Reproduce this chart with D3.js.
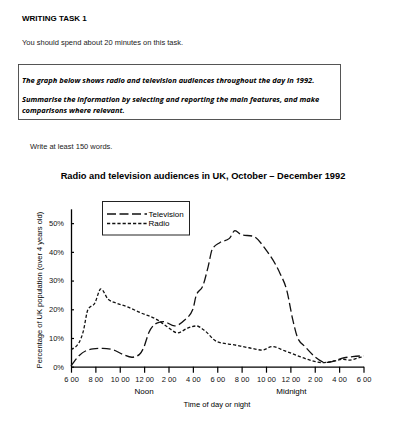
<!DOCTYPE html>
<html>
<head>
<meta charset="utf-8">
<script src="https://cdn.jsdelivr.net/npm/d3@7"></script>
<style>
  body { margin: 0; background: #fff; }
  svg { display: block; }
</style>
</head>
<body>
<div id="chart"></div>
<script>
// hours run 6 (6am) to 30 (6am next day)
var tvHours   = [6.0, 6.7, 7.8, 8.6, 9.5, 10.3, 11.0, 11.6, 11.95, 12.4, 13.1, 13.6, 14.5, 15.3, 16.0, 16.25, 16.85, 17.25, 17.6, 18.2, 19.0, 19.45, 20.0, 20.9, 22.0, 23.15, 23.7, 24.2, 24.6, 25.2, 26.0, 26.6, 27.0, 27.5, 28.2, 29.1, 30.0];
var tvValues  = [0.3, 4.0, 6.2, 6.4, 5.8, 4.2, 3.3, 4.2, 6.5, 12.0, 15.3, 15.7, 14.2, 16.2, 20.0, 24.5, 28.5, 34.8, 41.0, 43.2, 44.7, 47.4, 45.9, 45.5, 40.7, 32.5, 26.7, 16.3, 10.0, 7.0, 3.5, 1.8, 1.5, 1.9, 2.9, 3.5, 3.8];

var radioHours  = [6.0, 6.7, 7.0, 7.4, 7.95, 8.45, 9.05, 9.75, 10.6, 11.7, 13.1, 13.9, 14.75, 15.55, 16.3, 16.9, 18.0, 19.4, 20.6, 21.7, 22.5, 23.5, 24.6, 25.6, 26.6, 27.6, 28.3, 28.8, 29.8, 30.0];
var radioValues = [6.0, 8.7, 12.2, 20.0, 22.1, 27.1, 23.5, 22.1, 20.9, 18.8, 16.3, 13.9, 11.8, 13.4, 14.2, 12.8, 8.7, 7.6, 6.6, 5.8, 7.0, 5.6, 3.8, 2.3, 1.4, 2.0, 2.6, 2.3, 3.3, 3.4];

var tickHours  = [6, 8, 10, 12, 14, 16, 18, 20, 22, 24, 26, 28, 30];
var tickLabels = ["6 00", "8 00", "10 00", "12 00", "2 00", "4 00", "6 00", "8 00", "10 00", "12 00", "2 00", "4 00", "6 00"];
var yTicks = [0, 10, 20, 30, 40, 50];

var seriesNames = ["Television", "Radio"];

var svg = d3.select('#chart').append('svg')
    .attr('width', 400)
    .attr('height', 428);

// exam header
var sans = "'Liberation Sans', Arial, sans-serif";
svg.append('text').attr('x', 22).attr('y', 20.5)
    .style('font-family', sans).style('font-size', '8px').style('font-weight', 'bold')
    .text('WRITING TASK 1');
svg.append('text').attr('x', 22).attr('y', 44.5)
    .style('font-family', sans).style('font-size', '7.5px').attr('fill', '#222')
    .text('You should spend about 20 minutes on this task.');

svg.append('rect').attr('x', 18.5).attr('y', 64.5).attr('width', 322).attr('height', 55)
    .attr('fill', 'none').attr('stroke', '#444').attr('stroke-width', 0.9);

var boxLines = [
    {y: 82.5, t: 'The graph below shows radio and television audiences throughout the day in 1992.'},
    {y: 101.5, t: 'Summarise the information by selecting and reporting the main features, and make'},
    {y: 112.5, t: 'comparisons where relevant.'}
];
svg.selectAll('text.task').data(boxLines).enter().append('text')
    .attr('class', 'task')
    .attr('x', 22).attr('y', function(d) { return d.y; })
    .style('font-family', "'Open Sans', sans-serif").style('font-size', '7.5px')
    .style('font-weight', 'bold').style('font-style', 'italic')
    .text(function(d) { return d.t; });

svg.append('text').attr('x', 30).attr('y', 148.5)
    .style('font-family', sans).style('font-size', '7.5px').attr('fill', '#222')
    .text('Write at least 150 words.');

// chart title
svg.append('text').attr('x', 203).attr('y', 178.5).attr('text-anchor', 'middle')
    .style('font-family', sans).style('font-size', '9.3px').style('font-weight', 'bold')
    .text('Radio and television audiences in UK, October \u2013 December 1992');

var x = d3.scaleLinear().domain([6, 30]).range([71, 363.5]);
var y = d3.scaleLinear().domain([0, 55]).range([366.7, 208.8]);

// x axis
var xAxis = svg.append('g')
    .attr('transform', 'translate(0,' + y(0) + ')')
    .call(d3.axisBottom(x).tickValues(tickHours)
        .tickFormat(function(d, i) { return tickLabels[i]; })
        .tickSizeInner(6).tickSizeOuter(0).tickPadding(3.5));
xAxis.select('.domain').attr('stroke-width', 1.3);
xAxis.selectAll('.tick line').attr('stroke-width', 1.2);
xAxis.selectAll('.tick text').style('font-family', sans).style('font-size', '7.5px').attr('fill', '#111');

// y axis, ticks cross the line
var yAxis = svg.append('g')
    .attr('transform', 'translate(' + x(6) + ',0)')
    .call(d3.axisLeft(y).tickValues(yTicks)
        .tickFormat(function(d) { return d + '%'; })
        .tickSizeInner(4).tickSizeOuter(0).tickPadding(3));
yAxis.select('.domain').attr('stroke-width', 1.3);
yAxis.selectAll('.tick line').attr('x2', 3).attr('stroke-width', 1.2);
yAxis.selectAll('.tick text').style('font-family', sans).style('font-size', '7.5px').attr('fill', '#111');

// axis captions
svg.append('text').attr('x', x(12)).attr('y', 393.5).attr('text-anchor', 'middle')
    .style('font-family', sans).style('font-size', '8px').text('Noon');
svg.append('text').attr('x', x(24) + 1).attr('y', 393.5).attr('text-anchor', 'middle')
    .style('font-family', sans).style('font-size', '8px').text('Midnight');
svg.append('text').attr('x', 217).attr('y', 407).attr('text-anchor', 'middle')
    .style('font-family', sans).style('font-size', '7.6px').text('Time of day or night');
svg.append('text')
    .attr('transform', 'translate(41.5,290) rotate(-90)')
    .attr('text-anchor', 'middle')
    .style('font-family', sans).style('font-size', '7.5px')
    .text('Percentage of UK population (over 4 years old)');

// lines
var line = d3.line()
    .x(function(d) { return x(d[0]); })
    .y(function(d) { return y(d[1]); })
    .curve(d3.curveMonotoneX);

var tvData = d3.zip(tvHours, tvValues);
var radioData = d3.zip(radioHours, radioValues);
var dashes = ['9,3.5', '3.2,2'];

svg.append('path').datum(tvData)
    .attr('d', line).attr('fill', 'none').attr('stroke', '#111')
    .attr('stroke-width', 1.3).attr('stroke-dasharray', dashes[0]);
svg.append('path').datum(radioData)
    .attr('d', line).attr('fill', 'none').attr('stroke', '#111')
    .attr('stroke-width', 1.3).attr('stroke-dasharray', dashes[1]);

// legend
var legend = svg.append('g');
legend.append('rect').attr('x', 102.5).attr('y', 201.5).attr('width', 87).attr('height', 33.5)
    .attr('fill', '#fff').attr('stroke', '#222').attr('stroke-width', 1);
seriesNames.forEach(function(name, i) {
    var ly = 214 + i * 9.5;
    legend.append('line').attr('x1', 107).attr('x2', 147).attr('y1', ly).attr('y2', ly)
        .attr('stroke', '#111').attr('stroke-width', 1.3).attr('stroke-dasharray', dashes[i]);
    legend.append('text').attr('x', 148.5).attr('y', ly + 2.8)
        .style('font-family', sans).style('font-size', '8px').text(name);
});
</script>
</body>
</html>
